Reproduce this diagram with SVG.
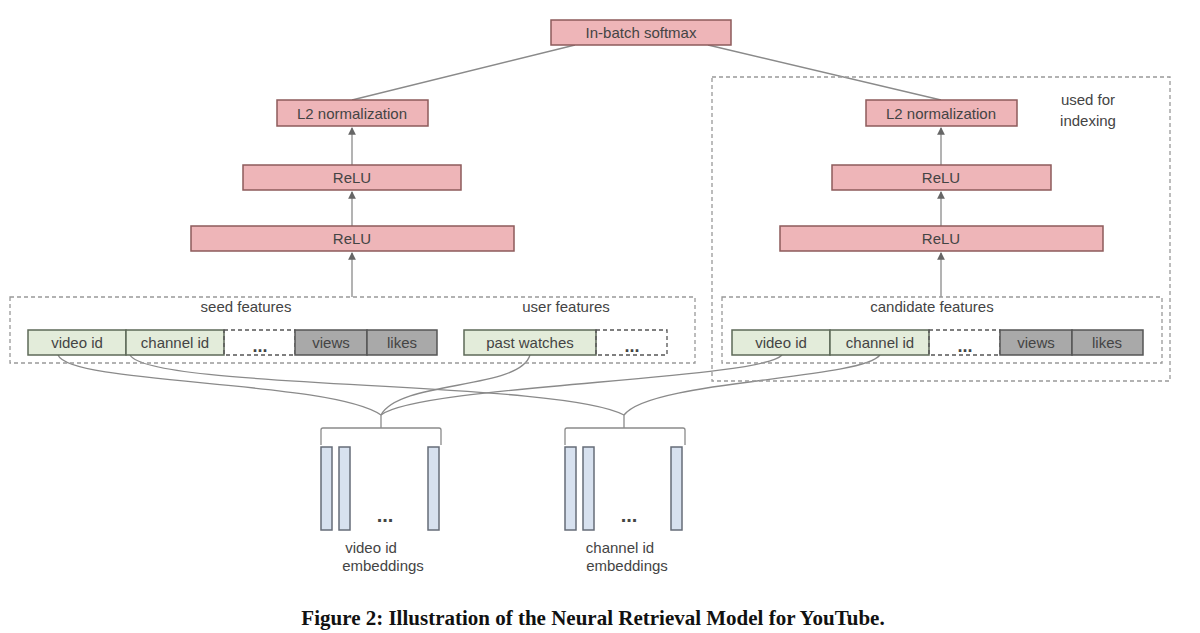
<svg xmlns="http://www.w3.org/2000/svg" width="1200" height="633" viewBox="0 0 1200 633">
<defs>
<marker id="ah" viewBox="0 0 8 8" refX="7" refY="4" markerWidth="6" markerHeight="6" orient="auto"><path d="M0,0 L8,4 L0,8 z" fill="#666"/></marker>
<style>
text{font-family:"Liberation Sans",Arial,sans-serif;fill:#444;font-size:15px;text-anchor:middle}
.p{fill:#eeb5b8;stroke:#8d5b5b;stroke-width:1.5}
.g{fill:#e3ecda;stroke:#5e6a58;stroke-width:1.5}
.k{fill:#a9a9a9;stroke:#555;stroke-width:1.5}
.b{fill:#d7e1ef;stroke:#666c78;stroke-width:1.5}
.d{fill:none;stroke:#999;stroke-width:1.3;stroke-dasharray:4 3}
.dd{fill:none;stroke:#555;stroke-width:1.3;stroke-dasharray:4 3}
.c{fill:none;stroke:#8a8a8a;stroke-width:1.3}
.dots{font-size:18px;font-weight:bold}
</style>
</defs>
<rect width="1200" height="633" fill="#fff"/>
<g id="connectors">
<line class="c" x1="352" y1="100" x2="575" y2="45"/>
<line class="c" x1="941" y1="100" x2="708" y2="45"/>
<line class="c" x1="352" y1="165" x2="352" y2="128" marker-end="url(#ah)"/>
<line class="c" x1="352" y1="226" x2="352" y2="192" marker-end="url(#ah)"/>
<line class="c" x1="352" y1="297" x2="352" y2="253" marker-end="url(#ah)"/>
<line class="c" x1="941" y1="165" x2="941" y2="128" marker-end="url(#ah)"/>
<line class="c" x1="941" y1="226" x2="941" y2="192" marker-end="url(#ah)"/>
<line class="c" x1="941" y1="297" x2="941" y2="253" marker-end="url(#ah)"/>
<path class="c" d="M58,355 C70,385 330,380 381,415"/>
<path class="c" d="M130,355 C150,390 560,380 624,415"/>
<path class="c" d="M530,355 C520,390 400,380 381,415"/>
<path class="c" d="M782,355 C760,380 420,385 381,415"/>
<path class="c" d="M880,355 C860,380 650,380 624,415"/>
<path class="c" d="M381,415 V428 M321,445 V430 Q321,428 323,428 H439 Q441,428 441,430 V445"/>
<path class="c" d="M624,415 V428 M565,445 V430 Q565,428 567,428 H683 Q685,428 685,430 V445"/>
</g>
<g id="softmax"><rect class="p" x="551" y="20" width="180" height="25"/><text x="641" y="38">In-batch softmax</text></g>
<g id="l2-left"><rect class="p" x="277" y="100" width="151" height="26"/><text x="352" y="119">L2 normalization</text></g>
<g id="relu1-left"><rect class="p" x="243" y="165" width="218" height="25"/><text x="352" y="183">ReLU</text></g>
<g id="relu2-left"><rect class="p" x="191" y="226" width="323" height="25"/><text x="352" y="244">ReLU</text></g>
<g id="indexing"><rect class="d" x="712" y="77" width="458" height="304"/><text x="1088" y="105">used for</text><text x="1088" y="126">indexing</text></g>
<g id="l2-right"><rect class="p" x="866" y="100" width="151" height="26"/><text x="941" y="119">L2 normalization</text></g>
<g id="relu1-right"><rect class="p" x="832" y="165" width="219" height="25"/><text x="941" y="183">ReLU</text></g>
<g id="relu2-right"><rect class="p" x="780" y="226" width="323" height="25"/><text x="941" y="244">ReLU</text></g>
<g id="query-features">
<rect class="d" x="10" y="297" width="685" height="66"/>
<text x="246" y="312">seed features</text><text x="566" y="312">user features</text>
<rect class="g" x="28" y="330" width="98" height="25"/><text x="77" y="348">video id</text>
<rect class="g" x="126" y="330" width="98" height="25"/><text x="175" y="348">channel id</text>
<rect class="dd" x="224" y="330" width="71" height="25"/><text class="dots" x="260" y="352">...</text>
<rect class="k" x="295" y="330" width="72" height="25"/><text x="331" y="348">views</text>
<rect class="k" x="367" y="330" width="70" height="25"/><text x="402" y="348">likes</text>
<rect class="g" x="464" y="330" width="132" height="25"/><text x="530" y="348">past watches</text>
<rect class="dd" x="596" y="330" width="71" height="25"/><text class="dots" x="632" y="352">...</text>
</g>
<g id="candidate-features">
<rect class="d" x="722" y="297" width="440" height="66"/>
<text x="932" y="312">candidate features</text>
<rect class="g" x="732" y="330" width="98" height="25"/><text x="781" y="348">video id</text>
<rect class="g" x="830" y="330" width="99" height="25"/><text x="880" y="348">channel id</text>
<rect class="dd" x="929" y="330" width="71" height="25"/><text class="dots" x="965" y="352">...</text>
<rect class="k" x="1000" y="330" width="72" height="25"/><text x="1036" y="348">views</text>
<rect class="k" x="1072" y="330" width="71" height="25"/><text x="1107" y="348">likes</text>
</g>
<g id="video-embeddings">
<rect class="b" x="321" y="447" width="11" height="83"/><rect class="b" x="339" y="447" width="11" height="83"/><rect class="b" x="428" y="447" width="11" height="83"/>
<text class="dots" x="385" y="522" style="font-size:20px">...</text>
<text x="371" y="553">video id</text><text x="383" y="571">embeddings</text>
</g>
<g id="channel-embeddings">
<rect class="b" x="565" y="447" width="11" height="83"/><rect class="b" x="583" y="447" width="11" height="83"/><rect class="b" x="671" y="447" width="11" height="83"/>
<text class="dots" x="629" y="522" style="font-size:20px">...</text>
<text x="620" y="553">channel  id</text><text x="627" y="571">embeddings</text>
</g>
<text x="593" y="625" style="font-family:'Liberation Serif',serif;font-weight:bold;font-size:21px;fill:#111">Figure 2: Illustration of the Neural Retrieval Model for YouTube.</text>
</svg>
